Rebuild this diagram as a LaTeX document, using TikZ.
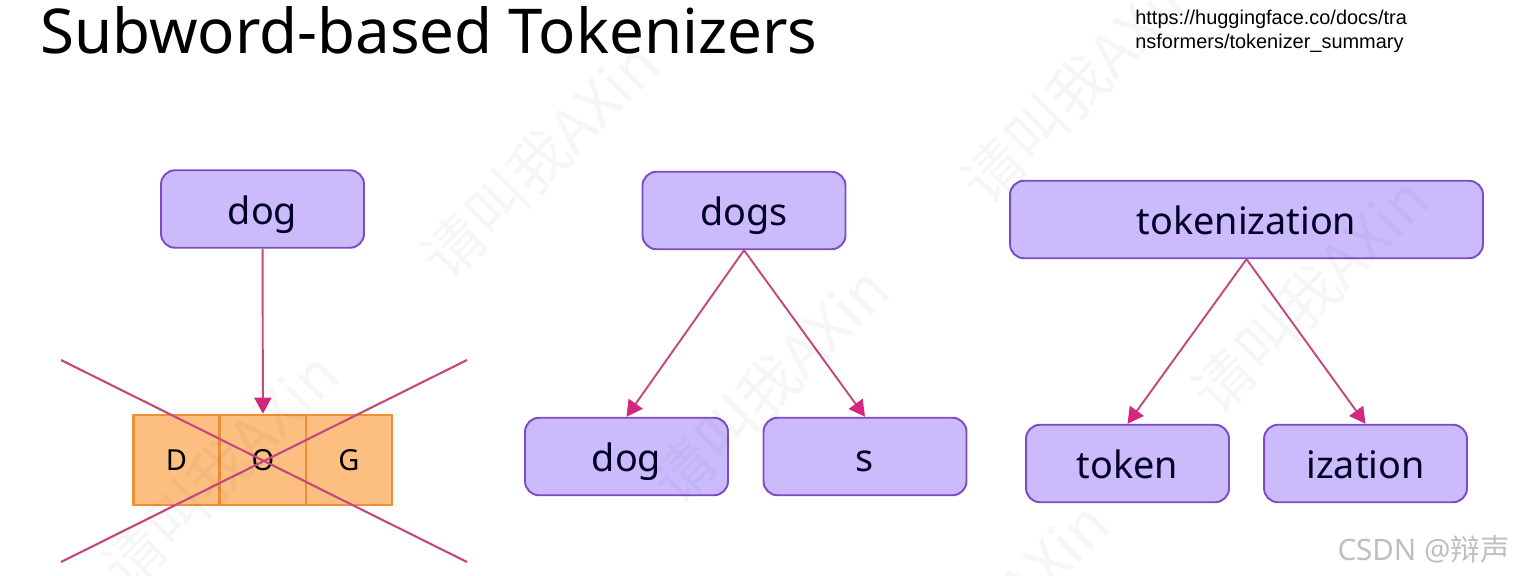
\documentclass[tikz,border=0pt]{standalone}
\usepackage{fontspec}
\usepackage{color}
\setmainfont{Noto Sans}
\newfontfamily\urlfont{Liberation Sans}
\newfontfamily\cjk{Noto Sans CJK SC}
\usetikzlibrary{arrows.meta}
\definecolor{boxfill}{HTML}{CBBBFC}
\definecolor{boxline}{HTML}{7B4CC4}
\definecolor{cellfill}{HTML}{FDBF80}
\definecolor{cellline}{HTML}{EE8F35}
\definecolor{tipcol}{HTML}{D6277F}
\definecolor{linecol}{HTML}{C4487F}
\begin{document}
\begin{tikzpicture}[x=0.02cm, y=-0.02cm,
    word/.style={draw=boxline, fill=boxfill, rounded corners=0.28cm, line width=1.1pt, inner sep=0pt,
      text height=0.7cm, text depth=0.1cm,
      minimum width=4.06cm, minimum height=1.55cm, font=\fontsize{21.5}{25}\selectfont, text=black!85!blue},
    cell/.style={draw=cellline, fill=cellfill, line width=1.5pt, inner sep=0pt,
      minimum width=1.72cm, minimum height=1.8cm, font=\fontsize{16.5}{20}\selectfont},
    arr/.style={draw=linecol, line width=1.1pt, -{Triangle[length=0.32cm, width=0.34cm, color=tipcol]}},
    cross/.style={draw=linecol, line width=1.2pt},
    wmark/.style={rotate=45, text=black, opacity=0.035, font=\cjk\fontsize{34}{40}\selectfont}]
  \useasboundingbox (0,0) rectangle (1514,575);
  \node [anchor=west, font=\fontsize{35.2}{42}\selectfont] (title) at (34,30) {Subword-based Tokenizers};
  \node [anchor=north west, align=left, inner sep=0pt, font=\urlfont\fontsize{11.35}{13.8}\selectfont] (link) at (1135,9.5)
    {https://huggingface.co/docs/tra\\nsformers/tokenizer\_summary};
  % left group
  \node [word] (dog) at (262.5,209) {dog};
  \node [cell] (d) at (176.5,460) {D};
  \node [cell] (g) at (349,460) {G};
  \node [cell] (o) at (263,460) {O};
  \draw [arr] (dog) -- (o);
  \coordinate (ca) at (61,360);
  \coordinate (cb) at (467,562);
  \coordinate (cc) at (61,562);
  \coordinate (cd) at (467,360);
  \draw [cross] (ca) -- (cb);
  \draw [cross] (cc) -- (cd);
  % middle group
  \node [word] (dogs) at (744,210.5) {dogs};
  \node [word] (dogpart) at (626.5,456.5) {dog};
  \node [word] (spart) at (865,456.5) {s};
  \draw [arr] (dogs.south) -- (dogpart.north);
  \draw [arr] (dogs.south) -- (spart.north);
  % right group
  \node [word, minimum width=9.46cm] (tokenization) at (1246.5,219.5) {tokenization};
  \node [word] (token) at (1127.5,463.5) {token};
  \node [word] (ization) at (1365.5,463.5) {ization};
  \draw [arr] (tokenization.south) -- (token.north);
  \draw [arr] (tokenization.south) -- (ization.north);
  % marks
  \node [wmark] (m1) at (540,160) {请叫我AXin};
  \node [wmark] (m2) at (770,385) {请叫我AXin};
  \node [wmark] (m3) at (1080,85) {请叫我AXin};
  \node [wmark] (m4) at (1310,295) {请叫我AXin};
  \node [wmark] (m5) at (220,470) {请叫我AXin};
  \node [wmark] (m6) at (990,620) {请叫我AXin};
  \node [anchor=east, inner sep=0pt, text=black!25, font=\fontsize{16.8}{20}\selectfont] (csdn) at (1510,549)
    {CSDN @{\cjk 辩声}};
\end{tikzpicture}
\end{document}
